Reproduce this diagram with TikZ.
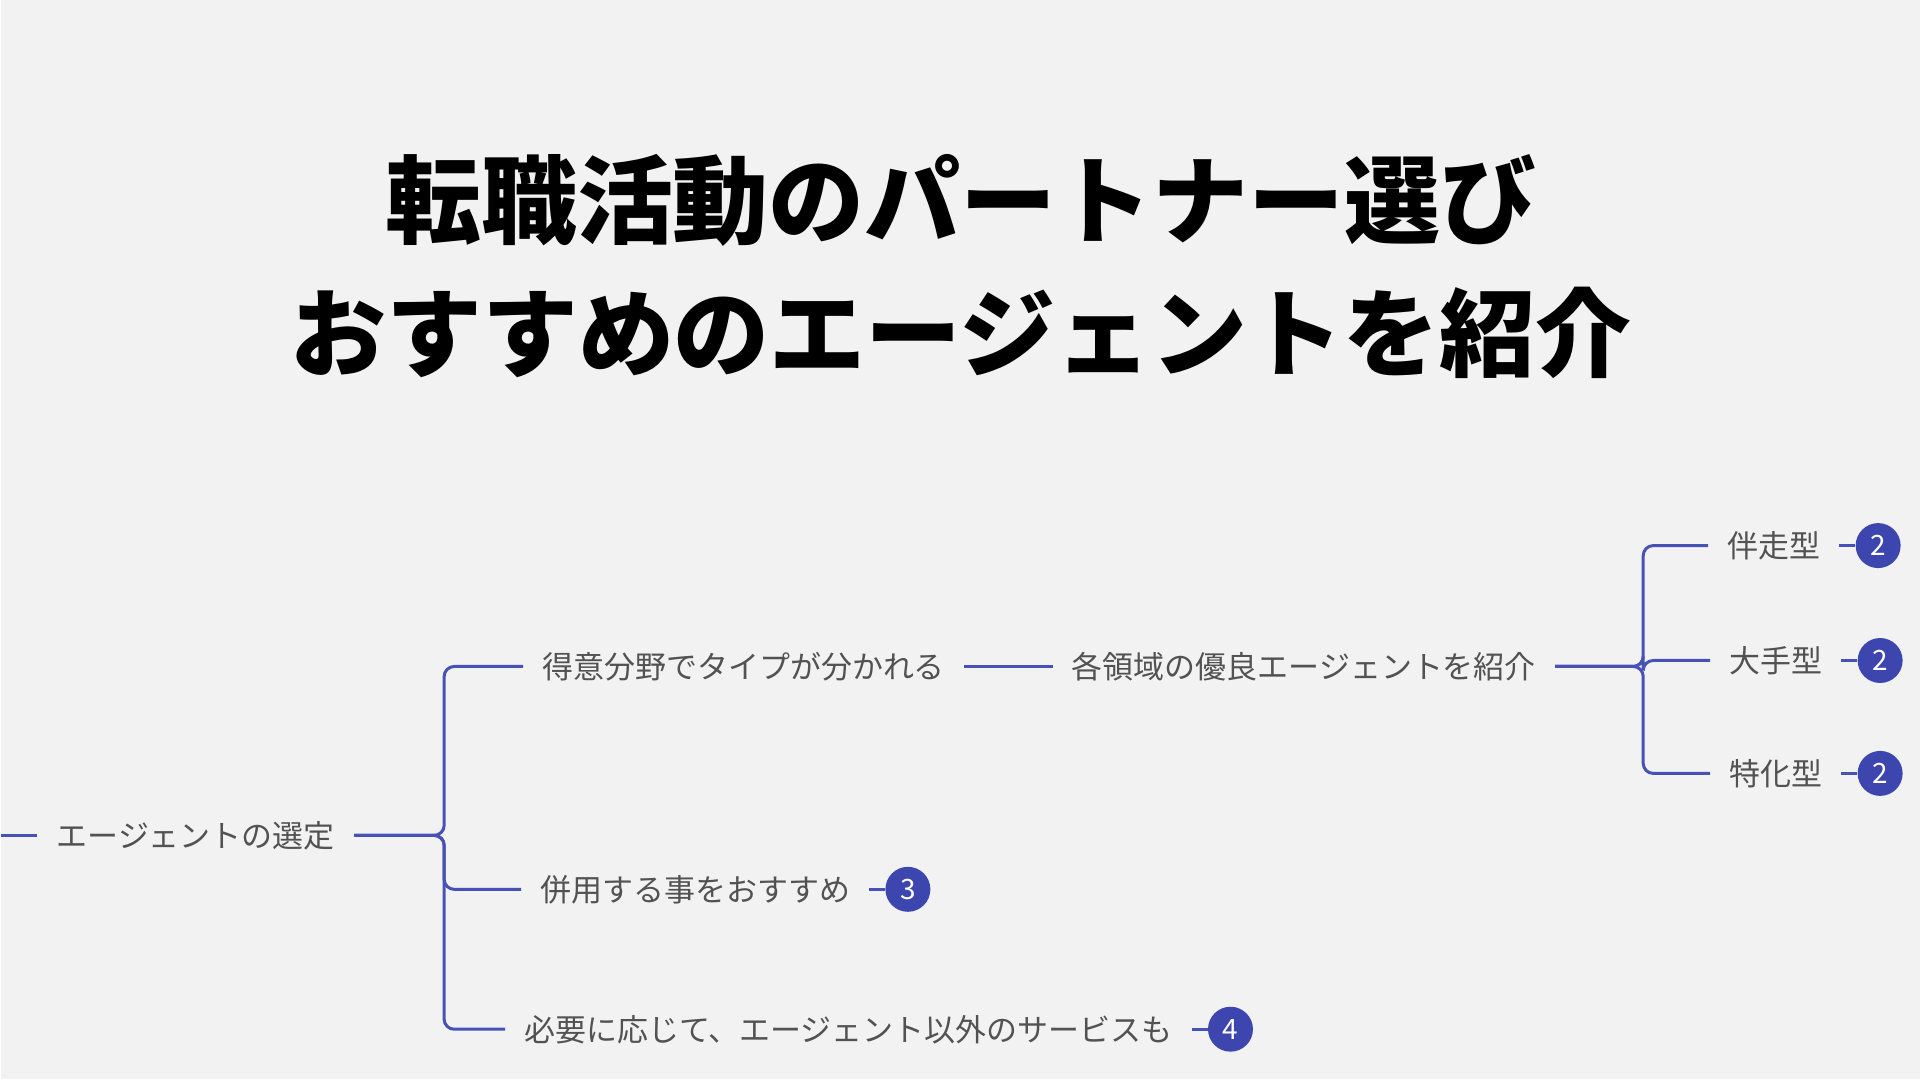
\documentclass[tikz,border=0pt]{standalone}
\usepackage{fontspec}
\newfontfamily\jp{Noto Sans CJK JP}
\usetikzlibrary{positioning}

\definecolor{bg}{RGB}{242,242,242}
\definecolor{txtgray}{RGB}{82,82,82}
\definecolor{linkblue}{RGB}{72,82,182}
\definecolor{badgeblue}{RGB}{60,70,174}

\begin{document}
\begin{tikzpicture}[x=1pt, y=-1pt, node distance=16pt,
    topic/.style={anchor=west, inner xsep=19pt, inner ysep=0pt, text=txtgray,
        font=\jp\fontsize{31}{31}\selectfont, text height=23.6pt, text depth=0pt},
    badge/.style={circle, fill=badgeblue, text=white, minimum size=45pt, inner sep=0pt,
        font=\jp\fontsize{28}{28}\selectfont},
    link/.style={draw=linkblue, line width=3pt, rounded corners=10pt},
    title/.style={anchor=base, font=\jp\bfseries\fontsize{96}{96}\selectfont}]

% Background
\fill[bg] (0,0) rectangle (1920,1080);

% Title
\node[title] (t1) at (960,237) {転職活動のパートナー選び};
\node[title] (t2) at (960,370) {おすすめのエージェントを紹介};

% Define the topics
\coordinate (in) at (0,836);
\node[topic] (root) at (36,836) {エージェントの選定};
\coordinate (j1) at (443,836);
\node[topic] (type) at (522,667) {得意分野でタイプが分かれる};
\node[topic] (heiyou) at (520,890) {併用する事をおすすめ};
\node[topic] (other) at (504,1030) {必要に応じて、エージェント以外のサービスも};
\node[topic] (intro) at (1052,667) {各領域の優良エージェントを紹介};
\coordinate (j2) at (1643,667);
\node[topic] (bansou) at (1708,546) {伴走型};
\node[topic] (oote) at (1710,661) {大手型};
\node[topic] (tokka) at (1710,774) {特化型};

% Badges
\node[badge] (b1) [right=of bansou] {2};
\node[badge] (b2) [right=of oote] {2};
\node[badge] (b3) [right=of tokka] {2};
\node[badge] (b4) [right=of heiyou] {3};
\node[badge] (b5) [right=of other] {4};

% Branches
\draw[link] (in) -- (root.west);
\draw[link] (root.east) -- (j1) |- (type.west);
\draw[link] (root.east) -- (j1) |- (heiyou.west);
\draw[link] (root.east) -- (j1) |- (other.west);
\draw[link] (type.east) -- (intro.west);
\draw[link] (intro.east) -- (j2) |- (bansou.west);
\draw[link] (intro.east) -- (j2) |- (oote.west);
\draw[link] (intro.east) -- (j2) |- (tokka.west);

% Badge links
\path[link]
    (bansou) edge (b1)
    (oote) edge (b2)
    (tokka) edge (b3)
    (heiyou) edge (b4)
    (other) edge (b5);

\end{tikzpicture}
\end{document}
